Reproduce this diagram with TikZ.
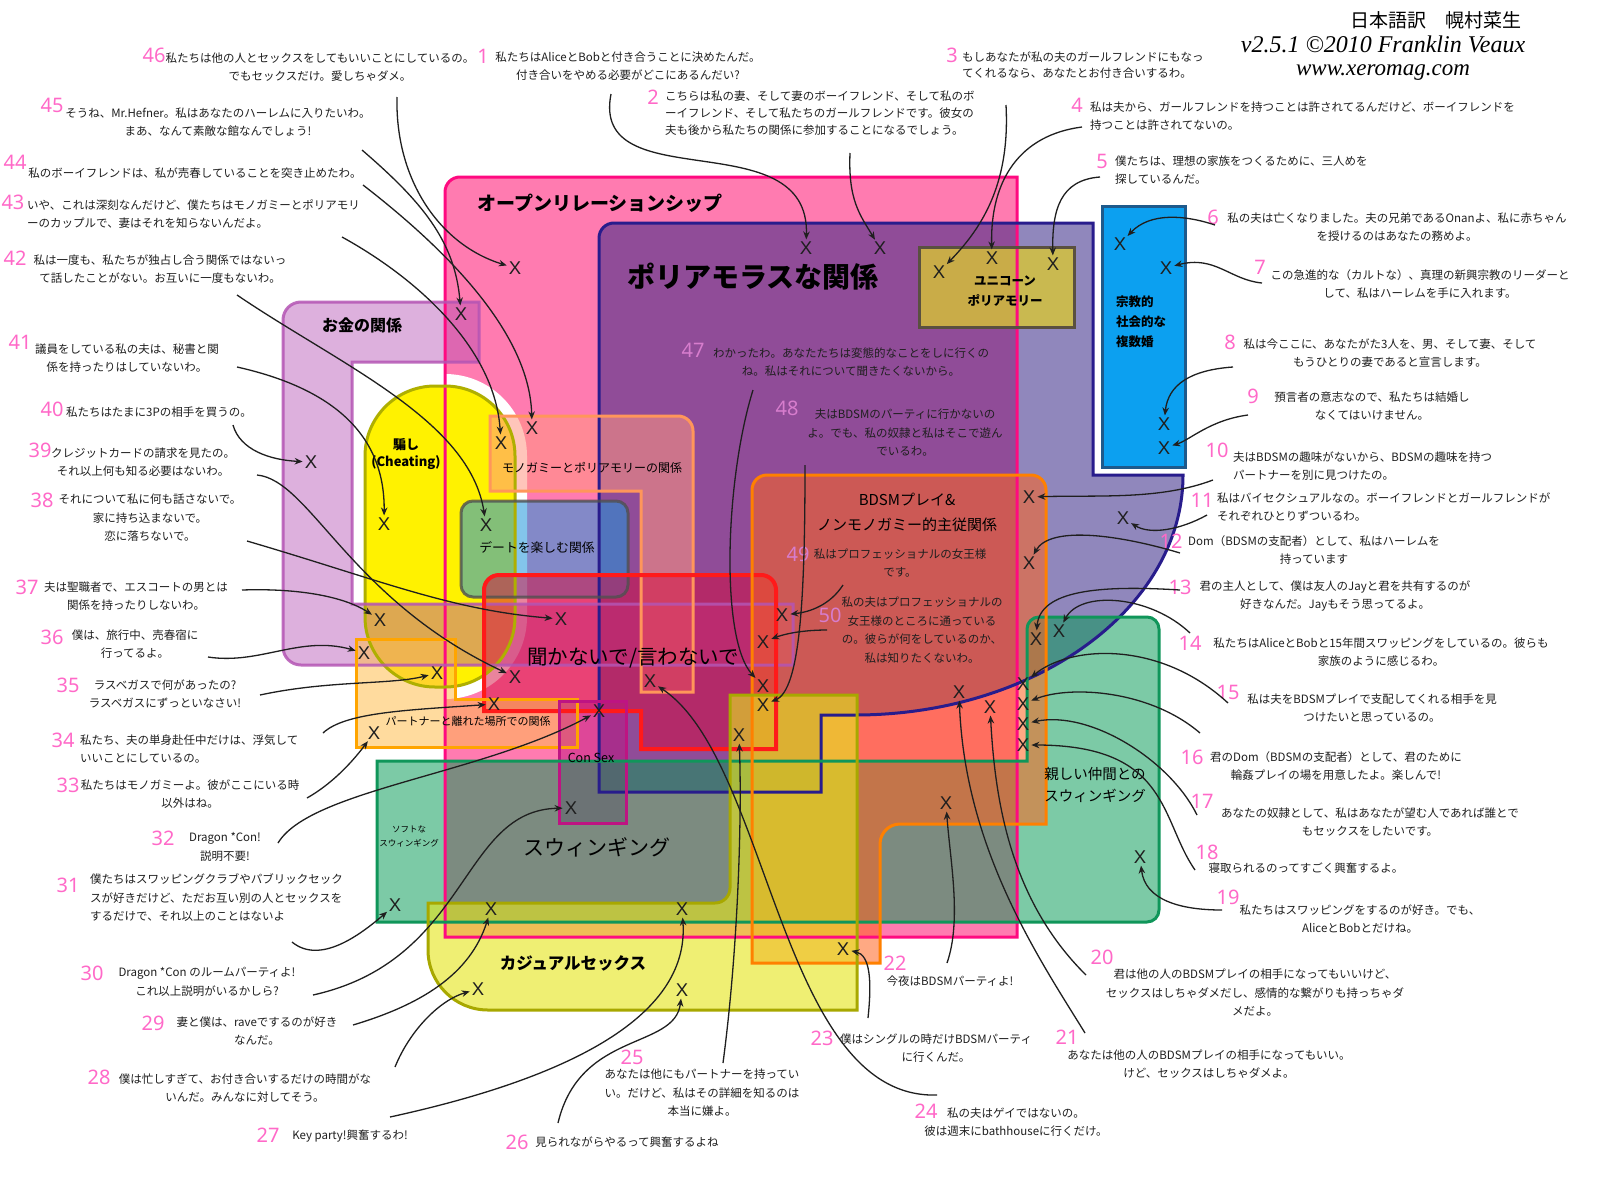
\documentclass[tikz,border=0pt]{standalone}
\usepackage{fontspec}
\usetikzlibrary{arrows.meta}
\newfontfamily\jp{Noto Sans CJK JP}
\newfontfamily\numf{Noto Sans}
\newfontfamily\xf{Liberation Sans}
\newfontfamily\credf{Liberation Serif}
\newcommand\jfs[2]{\jp\fontsize{#1}{#2}\selectfont}
\definecolor{pinkn}{RGB}{255,105,200}
\definecolor{pinkm}{RGB}{215,125,205}
\definecolor{cOpen}{RGB}{255,123,176}
\definecolor{bOpen}{RGB}{255,10,128}
\definecolor{cPoly}{RGB}{53,38,133}
\definecolor{bPoly}{RGB}{40,28,140}
\definecolor{cRel}{RGB}{12,160,240}
\definecolor{bRel}{RGB}{30,90,140}
\definecolor{cUni}{RGB}{218,200,50}
\definecolor{bUni}{RGB}{90,80,64}
\definecolor{cMoney}{RGB}{180,80,180}
\definecolor{bMoney}{RGB}{180,85,180}
\definecolor{cCheat}{RGB}{255,242,0}
\definecolor{bCheat}{RGB}{175,175,0}
\definecolor{cMP}{RGB}{255,150,130}
\definecolor{bMP}{RGB}{255,150,90}
\definecolor{cDate}{RGB}{30,150,220}
\definecolor{bDate}{RGB}{80,80,80}
\definecolor{cDADT}{RGB}{215,10,60}
\definecolor{bDADT}{RGB}{255,26,26}
\definecolor{cRem}{RGB}{255,190,80}
\definecolor{bRem}{RGB}{255,165,0}
\definecolor{cCon}{RGB}{190,20,130}
\definecolor{cGreen}{RGB}{8,155,87}
\definecolor{bGreen}{RGB}{16,150,90}
\definecolor{cBDSM}{RGB}{255,100,30}
\definecolor{bBDSM}{RGB}{255,128,0}
\definecolor{cCas}{RGB}{230,230,30}
\definecolor{bCas}{RGB}{168,168,0}
\def\pOpen{(445,937) -- (445,192) .. controls (445,183.7) and (451.7,177) .. (460,177) -- (1017,177) -- (1017,937) -- cycle}
\def\pPoly{(599,792) -- (599,238) .. controls (599,229.7) and (605.7,223) .. (614,223) -- (1093,223) -- (1093,475) -- (1183,475) .. controls (1183,607.6) and (1036.2,715) .. (855,715) -- (821,715) -- (821,792) -- cycle}
\def\pRel{(1102,206) rectangle (1185,467)}
\def\pUni{(919,247) rectangle (1074,327)}
\def\pMoney{(283,320) .. controls (283,310) and (291,302) .. (301,302) -- (479,302) -- (479,362) -- (352,362) -- (352,604) -- (793,604) -- (793,665) -- (301,665) .. controls (291,665) and (283,657) .. (283,647) -- cycle}
\def\pCheat{[rounded corners=70pt] (365,386) rectangle (515,687)}
\def\pMP{(490,416) -- (678,416) .. controls (686.3,416) and (693,422.7) .. (693,431) -- (693,692) -- (641,692) -- (641,491) -- (490,491) -- cycle}
\def\pDate{[rounded corners=12pt] (461,501) rectangle (628,597)}
\def\pDADT{(484,711) -- (484,590) .. controls (484,581.7) and (490.7,575) .. (499,575) -- (761,575) .. controls (769.3,575) and (776,581.7) .. (776,590) -- (776,749) -- (641,749) -- (641,711) -- cycle}
\def\pRem{(356,639) -- (455,639) -- (455,699) -- (577,699) -- (577,747) -- (356,747) -- cycle}
\def\pCon{(559,701) rectangle (626,823)}
\def\pGreen{(377,922) -- (377,761) -- (1027,761) -- (1027,629) .. controls (1027,622.4) and (1032.4,617) .. (1039,617) -- (1147,617) .. controls (1153.6,617) and (1159,622.4) .. (1159,629) -- (1159,910) .. controls (1159,916.6) and (1153.6,922) .. (1147,922) -- cycle}
\def\pBDSM{(752,963) -- (752,490) .. controls (752,481.7) and (758.7,475) .. (767,475) -- (1031,475) .. controls (1039.3,475) and (1046,481.7) .. (1046,490) -- (1046,824) -- (900,824) .. controls (889,824) and (880,833) .. (880,844) -- (880,963) -- cycle}
\def\pCas{(428,903) -- (715,903) .. controls (723.3,903) and (730,896.3) .. (730,888) -- (730,695) -- (857,695) -- (857,1010) -- (488,1010) .. controls (454.9,1010) and (428,983.1) .. (428,950) -- cycle}
\begin{document}
\begin{tikzpicture}[x=1pt,y=-1pt,
  every node/.style={inner sep=0pt},
  lab/.style={font=\jfs{11.5}{18.5}, align=center, text=black!88},
  labl/.style={lab, align=left, anchor=west},
  num/.style={font=\numf\fontsize{20}{20}\selectfont, text=pinkn},
  numin/.style={num, text=pinkm},
  xm/.style={font=\xf\fontsize{18.5}{18.5}\selectfont, text=black!88},
  arr/.style={line width=1.3pt, draw=black!88, -{Stealth[length=8pt,width=6.5pt]}, shorten >=2pt},
  ttl/.style={align=center, text=black},
  bd/.style={line width=3pt}]
\useasboundingbox (0,0) rectangle (1600,1186);
\fill[white] (0,0) rectangle (1600,1186);
% ---------- fills ----------
\fill[cOpen] \pOpen;
\fill[cPoly, fill opacity=0.55] \pPoly;
\fill[cRel] \pRel;
\fill[cUni, fill opacity=0.78] \pUni;
\draw[white, line width=24pt] \pCheat;
\fill[cCheat] \pCheat;
\fill[cMoney, fill opacity=0.45] \pMoney;
\fill[cMP, fill opacity=0.55] \pMP;
\fill[cDate, fill opacity=0.55] \pDate;
\fill[cDADT, fill opacity=0.5] \pDADT;
\fill[cRem, fill opacity=0.55] \pRem;
\fill[cCon, fill opacity=0.5] \pCon;
\fill[cGreen, fill opacity=0.53] \pGreen;
\fill[cBDSM, fill opacity=0.55] \pBDSM;
\fill[cCas, fill opacity=0.62] \pCas;
% ---------- borders ----------
\draw[bd, bOpen] \pOpen;
\draw[bd, bPoly] \pPoly;
\draw[bd, bRel] \pRel;
\draw[bd, bUni] \pUni;
\draw[bd, bCheat] \pCheat;
\draw[bd, bMoney, draw opacity=0.85] \pMoney;
\draw[bd, bMP] \pMP;
\draw[bd, bDate, draw opacity=0.8] \pDate;
\draw[line width=4pt, bDADT] \pDADT;
\draw[bd, bRem] \pRem;
\draw[bd, cCon] \pCon;
\draw[bd, bGreen] \pGreen;
\draw[bd, bBDSM] \pBDSM;
\draw[bd, bCas] \pCas;
% ---------- region titles ----------
\node[ttl, font=\jfs{19}{24}\bfseries] (t-open) at (600,203) {オープンリレーションシップ};
\node[ttl, font=\jfs{28}{34}\bfseries] (t-poly) at (753,277) {ポリアモラスな関係};
\node[ttl, font=\jfs{12.5}{20}\bfseries] (t-uni) at (1005,291) {ユニコーン\\ポリアモリー};
\node[ttl, font=\jfs{12.5}{20}\bfseries, align=left, anchor=west] (t-rel) at (1116,322) {宗教的\\社会的な\\複数婚};
\node[ttl, font=\jfs{16}{20}\bfseries] (t-money) at (362,325) {お金の関係};
\node[ttl, font=\jfs{13}{17}\bfseries] (t-cheat) at (406,454) {騙し\\(Cheating)};
\node[ttl, font=\jfs{12}{16}] (t-mp) at (592,468) {モノガミーとポリアモリーの関係};
\node[ttl, font=\jfs{12.8}{16}] (t-date) at (537,548) {デートを楽しむ関係};
\node[ttl, font=\jfs{20.5}{24}] (t-dadt) at (633,658) {聞かないで/言わないで};
\node[ttl, font=\jfs{11}{14}] (t-rem) at (468,721) {パートナーと離れた場所での関係};
\node[ttl, font=\jfs{12.5}{16}] (t-con) at (591,758) {Con Sex};
\node[ttl, font=\jfs{21}{26}] (t-swing) at (597,847) {スウィンギング};
\node[ttl, font=\jfs{8.5}{14}] (t-soft) at (409,836) {ソフトな\\スウィンギング};
\node[ttl, font=\jfs{14.5}{22}] (t-close) at (1095,785) {親しい仲間との\\スウィンギング};
\node[ttl, font=\jfs{15}{25}] (t-bdsm) at (907,512) {BDSMプレイ\&\\ノンモノガミー的主従関係};
\node[ttl, font=\jfs{16.5}{20}\bfseries] (t-cas) at (573,963) {カジュアルセックス};
% ---------- credits ----------
\node[font=\jfs{19}{22}] (c1) at (1436,20) {日本語訳　幌村菜生};
\node[font=\credf\itshape\fontsize{24}{28}\selectfont] (c2) at (1383,44) {v2.5.1 ©2010 Franklin Veaux};
\node[font=\credf\itshape\fontsize{23}{28}\selectfont] (c3) at (1383,73) {www.xeromag.com};
% ---------- X marks ----------
\node[xm] (x1) at (806,248) {X};
\node[xm] (x2) at (880,248) {X};
\node[xm] (x3) at (939,272) {X};
\node[xm] (x4) at (992,258) {X};
\node[xm] (x5) at (1053,264) {X};
\node[xm] (x6) at (1120,244) {X};
\node[xm] (x7) at (1166,268) {X};
\node[xm] (x8) at (1164,424) {X};
\node[xm] (x9) at (1164,448) {X};
\node[xm] (x10) at (1029,497) {X};
\node[xm] (x11) at (1123,518) {X};
\node[xm] (x12) at (1029,563) {X};
\node[xm] (x13) at (1036,639) {X};
\node[xm] (x14) at (1059,631) {X};
\node[xm] (x15) at (1023,684) {X};
\node[xm] (x16) at (1023,704) {X};
\node[xm] (x17) at (1023,724) {X};
\node[xm] (x18) at (1023,745) {X};
\node[xm] (x19) at (1140,857) {X};
\node[xm] (x20) at (990,707) {X};
\node[xm] (x21) at (959,692) {X};
\node[xm] (x22) at (946,803) {X};
\node[xm] (x23) at (843,949) {X};
\node[xm] (x24) at (650,681) {X};
\node[xm] (x25) at (739,735) {X};
\node[xm] (x26) at (682,990) {X};
\node[xm] (x27) at (682,909) {X};
\node[xm] (x28) at (478,989) {X};
\node[xm] (x29) at (491,909) {X};
\node[xm] (x30) at (571,808) {X};
\node[xm] (x31) at (395,905) {X};
\node[xm] (x32) at (599,711) {X};
\node[xm] (x33) at (374,733) {X};
\node[xm] (x34) at (494,704) {X};
\node[xm] (x35) at (437,673) {X};
\node[xm] (x36) at (364,653) {X};
\node[xm] (x37) at (380,620) {X};
\node[xm] (x38) at (561,619) {X};
\node[xm] (x39) at (515,677) {X};
\node[xm] (x40) at (311,462) {X};
\node[xm] (x41) at (384,524) {X};
\node[xm] (x42) at (486,525) {X};
\node[xm] (x43) at (501,443) {X};
\node[xm] (x44) at (532,428) {X};
\node[xm] (x45) at (461,314) {X};
\node[xm] (x46) at (515,268) {X};
\node[xm] (x47) at (763,686) {X};
\node[xm] (x48) at (763,705) {X};
\node[xm] (x49) at (782,615) {X};
\node[xm] (x50) at (763,642) {X};
% ---------- labels ----------
\node[num] (n1) at (483,56) {1};
\node[lab] (l1) at (628,66) {私たちはAliceとBobと付き合うことに決めたんだ。\\付き合いをやめる必要がどこにあるんだい?};
\node[num] (n2) at (653,97) {2};
\node[labl, font=\jfs{11.5}{16.8}] (l2) at (665,113) {こちらは私の妻、そして妻のボーイフレンド、そして私のボ\\ーイフレンド、そして私たちのガールフレンドです。彼女の\\夫も後から私たちの関係に参加することになるでしょう。};
\node[num] (n3) at (952,55) {3};
\node[labl, font=\jfs{11.5}{16.5}] (l3) at (962,65) {もしあなたが私の夫のガールフレンドにもなっ\\てくれるなら、あなたとお付き合いするわ。};
\node[num] (n4) at (1077,105) {4};
\node[labl] (l4) at (1090,116) {私は夫から、ガールフレンドを持つことは許されてるんだけど、ボーイフレンドを\\持つことは許されてないの。};
\node[num] (n5) at (1102,161) {5};
\node[labl] (l5) at (1115,170) {僕たちは、理想の家族をつくるために、三人めを\\探しているんだ。};
\node[num] (n6) at (1213,217) {6};
\node[lab] (l6) at (1397,227) {私の夫は亡くなりました。夫の兄弟であるOnanよ、私に赤ちゃん\\を授けるのはあなたの務めよ。};
\node[num] (n7) at (1260,267) {7};
\node[lab] (l7) at (1420,284) {この急進的な（カルトな）、真理の新興宗教のリーダーと\\して、私はハーレムを手に入れます。};
\node[num] (n8) at (1230,342) {8};
\node[lab] (l8) at (1390,353) {私は今ここに、あなたがた3人を、男、そして妻、そして\\もうひとりの妻であると宣言します。};
\node[num] (n9) at (1253,396) {9};
\node[lab] (l9) at (1372,406) {預言者の意志なので、私たちは結婚し\\なくてはいけません。};
\node[num] (n10) at (1217,450) {10};
\node[labl] (l10) at (1233,466) {夫はBDSMの趣味がないから、BDSMの趣味を持つ\\パートナーを別に見つけたの。};
\node[num] (n11) at (1202,500) {11};
\node[labl] (l11) at (1217,507) {私はバイセクシュアルなの。ボーイフレンドとガールフレンドが\\それぞれひとりずついるわ。};
\node[num] (n12) at (1171,541) {12};
\node[lab, font=\jfs{11.5}{17.5}] (l12) at (1314,550) {Dom（BDSMの支配者）として、私はハーレムを\\持っています};
\node[num] (n13) at (1180,587) {13};
\node[lab, font=\jfs{11.5}{17.5}] (l13) at (1335,596) {君の主人として、僕は友人のJayと君を共有するのが\\好きなんだ。Jayもそう思ってるよ。};
\node[num] (n14) at (1190,643) {14};
\node[lab] (l14) at (1381,652) {私たちはAliceとBobと15年間スワッピングをしているの。彼らも\\家族のように感じるわ。};
\node[num] (n15) at (1228,692) {15};
\node[lab] (l15) at (1372,708) {私は夫をBDSMプレイで支配してくれる相手を見\\つけたいと思っているの。};
\node[num] (n16) at (1192,757) {16};
\node[lab] (l16) at (1336,766) {君のDom（BDSMの支配者）として、君のために\\輪姦プレイの場を用意したよ。楽しんで!};
\node[num] (n17) at (1202,801) {17};
\node[lab] (l17) at (1370,822) {あなたの奴隷として、私はあなたが望む人であれば誰とで\\もセックスをしたいです。};
\node[num] (n18) at (1207,852) {18};
\node[lab] (l18) at (1306,868) {寝取られるのってすごく興奮するよ。};
\node[num] (n19) at (1228,897) {19};
\node[lab] (l19) at (1360,919) {私たちはスワッピングをするのが好き。でも、\\AliceとBobとだけね。};
\node[num] (n20) at (1102,957) {20};
\node[lab] (l20) at (1255,993) {君は他の人のBDSMプレイの相手になってもいいけど、\\セックスはしちゃダメだし、感情的な繋がりも持っちゃダ\\メだよ。};
\node[num] (n21) at (1067,1037) {21};
\node[lab] (l21) at (1209,1064) {あなたは他の人のBDSMプレイの相手になってもいい。\\けど、セックスはしちゃダメよ。};
\node[num] (n22) at (895,963) {22};
\node[lab] (l22) at (950,981) {今夜はBDSMパーティよ!};
\node[num] (n23) at (822,1038) {23};
\node[lab] (l23) at (936,1048) {僕はシングルの時だけBDSMパーティ\\に行くんだ。};
\node[num] (n24) at (926,1111) {24};
\node[lab] (l24) at (1016,1122) {私の夫はゲイではないの。\\彼は週末にbathhouseに行くだけ。};
\node[num] (n25) at (632,1057) {25};
\node[lab] (l25) at (702,1093) {あなたは他にもパートナーを持ってい\\い。だけど、私はその詳細を知るのは\\本当に嫌よ。};
\node[num] (n26) at (517,1142) {26};
\node[lab] (l26) at (627,1142) {見られながらやるって興奮するよね};
\node[num] (n27) at (268,1135) {27};
\node[lab] (l27) at (350,1136) {Key party!興奮するわ!};
\node[num] (n28) at (99,1077) {28};
\node[lab] (l28) at (245,1088) {僕は忙しすぎて、お付き合いするだけの時間がな\\いんだ。みんなに対してそう。};
\node[num] (n29) at (153,1023) {29};
\node[lab] (l29) at (257,1031) {妻と僕は、raveでするのが好き\\なんだ。};
\node[num] (n30) at (92,973) {30};
\node[lab] (l30) at (207,982) {Dragon *Con のルームパーティよ!\\これ以上説明がいるかしら?};
\node[num] (n31) at (68,885) {31};
\node[labl] (l31) at (90,898) {僕たちはスワッピングクラブやパブリックセック\\スが好きだけど、ただお互い別の人とセックスを\\するだけで、それ以上のことはないよ};
\node[num] (n32) at (163,838) {32};
\node[lab] (l32) at (225,847) {Dragon *Con!\\説明不要!};
\node[num] (n33) at (68,785) {33};
\node[lab] (l33) at (190,794) {私たちはモノガミーよ。彼がここにいる時\\以外はね。};
\node[num] (n34) at (63,740) {34};
\node[labl] (l34) at (80,749) {私たち、夫の単身赴任中だけは、浮気して\\いいことにしているの。};
\node[num] (n35) at (68,685) {35};
\node[lab] (l35) at (165,694) {ラスベガスで何があったの?\\ラスベガスにずっといなさい!};
\node[num] (n36) at (52,637) {36};
\node[lab] (l36) at (135,644) {僕は、旅行中、売春宿に\\行ってるよ。};
\node[num] (n37) at (27,587) {37};
\node[lab] (l37) at (136,596) {夫は聖職者で、エスコートの男とは\\関係を持ったりしないわ。};
\node[num] (n38) at (42,500) {38};
\node[lab] (l38) at (150,518) {それについて私に何も話さないで。\\家に持ち込まないで。\\恋に落ちないで。};
\node[num] (n39) at (40,450) {39};
\node[lab] (l39) at (143,462) {クレジットカードの請求を見たの。\\それ以上何も知る必要はないわ。};
\node[num] (n40) at (52,409) {40};
\node[lab] (l40) at (159,412) {私たちはたまに3Pの相手を買うの。};
\node[num] (n41) at (20,342) {41};
\node[lab] (l41) at (127,358) {議員をしている私の夫は、秘書と関\\係を持ったりはしていないわ。};
\node[num] (n42) at (15,258) {42};
\node[lab] (l42) at (160,269) {私は一度も、私たちが独占し合う関係ではないっ\\て話したことがない。お互いに一度もないわ。};
\node[num] (n43) at (13,202) {43};
\node[labl] (l43) at (27,214) {いや、これは深刻なんだけど、僕たちはモノガミーとポリアモリ\\ーのカップルで、妻はそれを知らないんだよ。};
\node[num] (n44) at (15,162) {44};
\node[lab] (l44) at (195,173) {私のボーイフレンドは、私が売春していることを突き止めたわ。};
\node[num] (n45) at (52,105) {45};
\node[lab] (l45) at (218,122) {そうね、Mr.Hefner。私はあなたのハーレムに入りたいわ。\\まあ、なんて素敵な館なんでしょう!};
\node[num] (n46) at (154,55) {46};
\node[lab] (l46) at (320,67) {私たちは他の人とセックスをしてもいいことにしているの。\\でもセックスだけ。愛しちゃダメ。};
\node[numin] (n47) at (693,350) {47};
\node[lab] (l47) at (851,362) {わかったわ。あなたたちは変態的なことをしに行くの\\ね。私はそれについて聞きたくないから。};
\node[numin] (n48) at (787,408) {48};
\node[lab] (l48) at (905,433) {夫はBDSMのパーティに行かないの\\よ。でも、私の奴隷と私はそこで遊ん\\でいるわ。};
\node[numin] (n49) at (798,554) {49};
\node[lab] (l49) at (900,563) {私はプロフェッショナルの女王様\\です。};
\node[numin] (n50) at (830,615) {50};
\node[lab] (l50) at (922,630) {私の夫はプロフェッショナルの\\女王様のところに通っている\\の。彼らが何をしているのか、\\私は知りたくないわ。};
% ---------- arrow starts ----------
\coordinate (a1) at (611,94);   \coordinate (a2) at (850,153);
\coordinate (a3) at (1006,105); \coordinate (a4) at (1082,127);
\coordinate (a5) at (1100,177); \coordinate (a6) at (1215,225);
\coordinate (a7) at (1262,283); \coordinate (a8) at (1233,367);
\coordinate (a9) at (1248,415); \coordinate (a10) at (1213,480);
\coordinate (a11) at (1207,515);\coordinate (a12) at (1180,553);
\coordinate (a13) at (1180,590);\coordinate (a14) at (1190,633);
\coordinate (a15) at (1228,703);\coordinate (a16) at (1200,733);
\coordinate (a17) at (1197,815);\coordinate (a18) at (1195,870);
\coordinate (a19) at (1222,910);\coordinate (a20) at (1086,975);
\coordinate (a21) at (1085,1033);\coordinate (a22) at (947,963);
\coordinate (a23) at (868,1018);\coordinate (a24) at (937,1095);
\coordinate (a25) at (723,1063);\coordinate (a26) at (558,1123);
\coordinate (a27) at (390,1117);\coordinate (a28) at (395,1067);
\coordinate (a29) at (353,1025);\coordinate (a30) at (313,995);
\coordinate (a31) at (292,942); \coordinate (a32) at (278,843);
\coordinate (a33) at (307,798); \coordinate (a34) at (323,733);
\coordinate (a35) at (260,695); \coordinate (a36) at (208,657);
\coordinate (a37) at (242,590); \coordinate (a38) at (247,541);
\coordinate (a39) at (257,475); \coordinate (a40) at (233,425);
\coordinate (a41) at (237,367); \coordinate (a42) at (237,295);
\coordinate (a43) at (342,237); \coordinate (a44) at (363,185);
\coordinate (a45) at (362,150); \coordinate (a46) at (397,97);
\coordinate (a47) at (753,390); \coordinate (a48) at (805,465);
\coordinate (a49) at (843,585); \coordinate (a50) at (827,630);
% ---------- arrows ----------
\draw[arr] (a1) .. controls (590,200) and (810,120) .. (x1);
\draw[arr] (a2) .. controls (848,200) and (860,215) .. (x2);
\draw[arr] (a3) .. controls (1010,180) and (985,225) .. (x3);
\draw[arr] (a4) .. controls (1020,135) and (990,180) .. (x4);
\draw[arr] (a5) .. controls (1060,180) and (1052,210) .. (x5);
\draw[arr] (a6) .. controls (1185,215) and (1150,212) .. (x6);
\draw[arr] (a7) .. controls (1230,280) and (1215,255) .. (x7);
\draw[arr] (a8) .. controls (1190,370) and (1168,385) .. (x8);
\draw[arr] (a9) .. controls (1210,420) and (1190,440) .. (x9);
\draw[arr] (a10) .. controls (1160,500) and (1100,495) .. (x10);
\draw[arr] (a11) .. controls (1180,530) and (1150,535) .. (x11);
\draw[arr] (a12) .. controls (1120,535) and (1050,525) .. (x12);
\draw[arr] (a13) .. controls (1100,585) and (1040,590) .. (x13);
\draw[arr] (a14) .. controls (1150,595) and (1080,590) .. (x14);
\draw[arr] (a15) .. controls (1160,640) and (1070,645) .. (x15);
\draw[arr] (a16) .. controls (1150,690) and (1070,685) .. (x16);
\draw[arr] (a17) .. controls (1170,760) and (1090,710) .. (x17);
\draw[arr] (a18) .. controls (1160,820) and (1170,745) .. (x18);
\draw[arr] (a19) .. controls (1180,910) and (1145,900) .. (x19);
\draw[arr] (a20) .. controls (1010,900) and (995,800) .. (x20);
\draw[arr] (a21) .. controls (1040,960) and (965,850) .. (x21);
\draw[arr] (a22) .. controls (962,920) and (950,860) .. (x22);
\draw[arr] (a23) .. controls (872,980) and (870,955) .. (x23);
\draw[arr] (a24) .. controls (780,1100) and (770,760) .. (x24);
\draw[arr] (a25) .. controls (738,950) and (742,820) .. (x25);
\draw[arr] (a26) .. controls (580,1030) and (675,1050) .. (x26);
\draw[arr] (a27) .. controls (560,1080) and (690,1020) .. (x27);
\draw[arr] (a28) .. controls (410,1030) and (440,1000) .. (x28);
\draw[arr] (a29) .. controls (420,1005) and (470,975) .. (x29);
\draw[arr] (a30) .. controls (470,960) and (460,810) .. (x30);
\draw[arr] (a31) .. controls (320,965) and (360,935) .. (x31);
\draw[arr] (a32) .. controls (310,790) and (480,775) .. (x32);
\draw[arr] (a33) .. controls (330,785) and (350,765) .. (x33);
\draw[arr] (a34) .. controls (345,712) and (410,710) .. (x34);
\draw[arr] (a35) .. controls (330,680) and (390,685) .. (x35);
\draw[arr] (a36) .. controls (260,665) and (300,635) .. (x36);
\draw[arr] (a37) .. controls (300,588) and (345,597) .. (x37);
\draw[arr] (a38) .. controls (380,580) and (450,610) .. (x38);
\draw[arr] (a39) .. controls (310,480) and (350,600) .. (x39);
\draw[arr] (a40) .. controls (240,450) and (270,460) .. (x40);
\draw[arr] (a41) .. controls (340,390) and (385,440) .. (x41);
\draw[arr] (a42) .. controls (340,365) and (470,420) .. (x42);
\draw[arr] (a43) .. controls (420,280) and (495,350) .. (x43);
\draw[arr] (a44) .. controls (460,260) and (530,340) .. (x44);
\draw[arr] (a45) .. controls (420,200) and (455,240) .. (x45);
\draw[arr] (a46) .. controls (395,180) and (440,245) .. (x46);
\draw[arr] (a47) .. controls (725,480) and (720,640) .. (x47);
\draw[arr] (a48) .. controls (805,600) and (800,690) .. (x48);
\draw[arr] (a49) .. controls (830,605) and (810,612) .. (x49);
\draw[arr] (a50) .. controls (810,630) and (790,632) .. (x50);
\end{tikzpicture}
\end{document}
